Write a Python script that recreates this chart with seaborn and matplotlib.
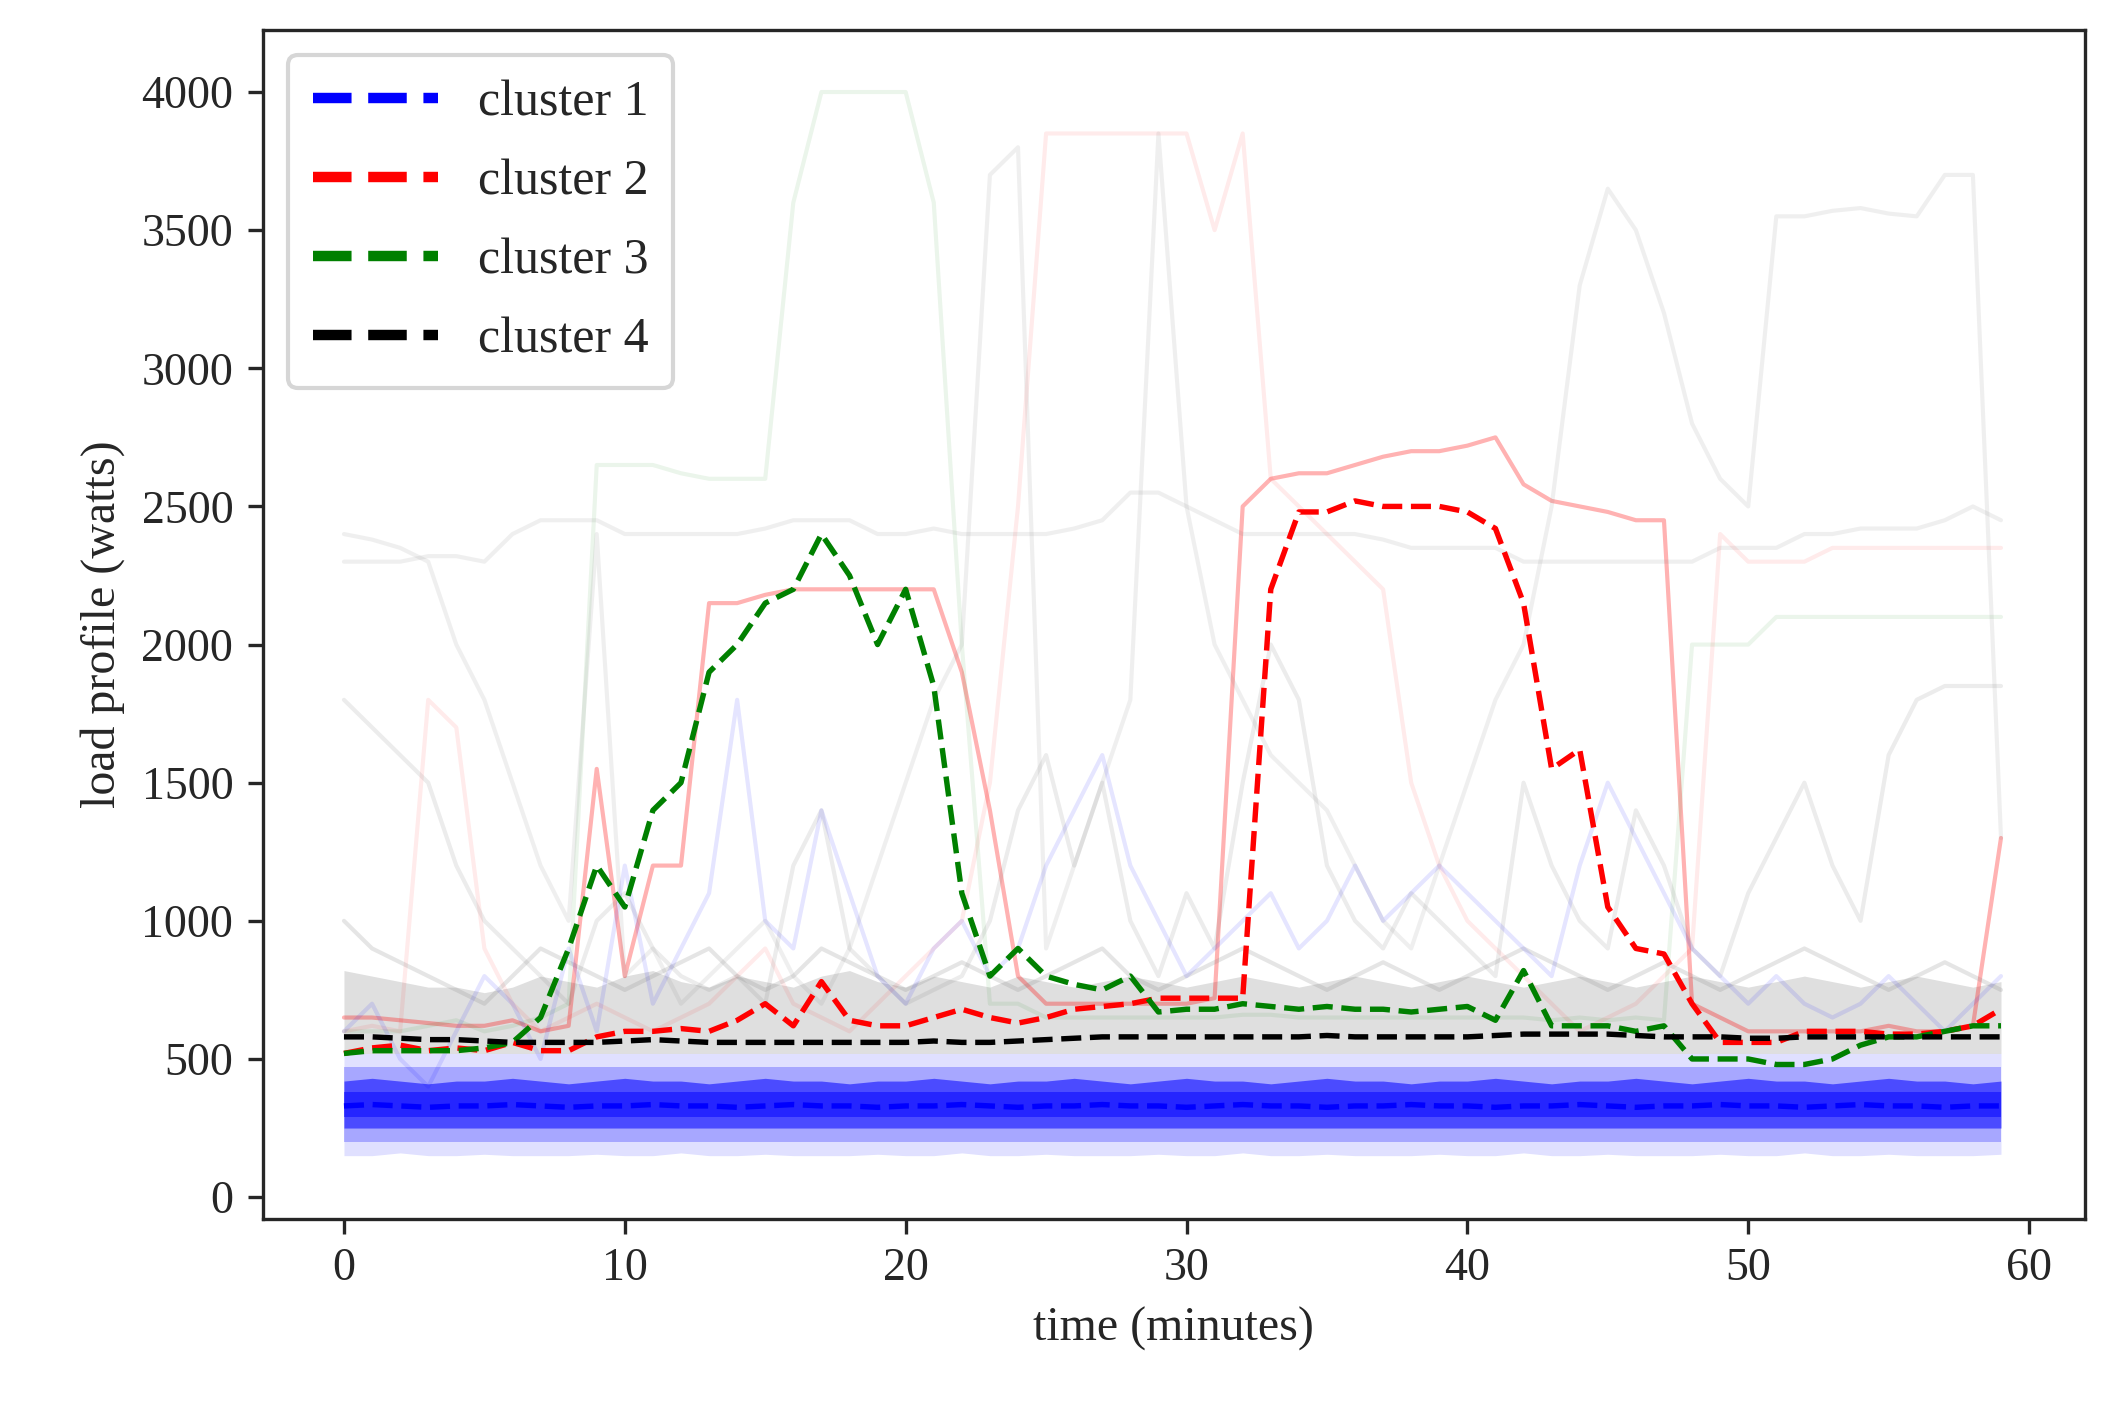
import numpy as np
import matplotlib
matplotlib.use("Agg")
import matplotlib.pyplot as plt
import seaborn as sns

t = list(range(60))

c1 = [330,335,330,325,330,330,335,330,325,330,330,335,330,330,325,330,335,330,330,325,
      330,330,335,330,325,330,330,335,330,330,325,330,335,330,330,325,330,330,335,330,
      330,325,330,330,335,330,325,330,330,335,330,330,325,330,335,330,330,325,330,330]
c2 = [520,540,550,530,540,530,560,530,530,580,600,600,610,600,640,700,620,780,640,620,
      620,650,680,650,630,650,680,690,700,720,720,720,720,2200,2480,2480,2520,2500,2500,2500,
      2480,2420,2150,1550,1620,1050,900,880,700,560,560,560,600,600,600,590,590,600,620,680]
c3 = [520,530,530,530,530,540,560,650,900,1200,1050,1400,1500,1900,2000,2150,2200,2400,2250,2000,
      2200,1850,1100,800,900,800,770,750,800,670,680,680,700,690,680,690,680,680,670,680,
      690,640,820,620,620,620,600,620,500,500,500,480,480,500,550,580,580,600,620,620]
c4 = [580,580,575,570,570,565,560,560,560,560,565,570,565,560,560,560,560,560,560,560,
      560,565,560,560,565,570,575,580,580,580,580,580,580,580,580,585,580,580,580,580,
      580,585,590,590,590,590,585,580,580,580,575,575,580,580,580,580,580,580,580,580]

red_a = [650,650,640,630,620,620,640,600,620,1550,800,1200,1200,2150,2150,2180,2200,2200,2200,2200,
         2200,2200,1900,1400,800,700,700,700,700,700,700,720,2500,2600,2620,2620,2650,2680,2700,2700,
         2720,2750,2580,2520,2500,2480,2450,2450,700,650,600,600,600,600,600,620,600,600,620,1300]
red_b = [600,620,600,1800,1700,900,700,600,650,700,650,600,650,700,800,900,700,650,600,700,
         800,900,1000,1500,2500,3850,3850,3850,3850,3850,3850,3500,3850,2600,2500,2400,2300,2200,1500,1200,
         1000,900,800,700,600,650,700,800,900,2400,2300,2300,2300,2350,2350,2350,2350,2350,2350,2350]
green_a = [600,600,600,620,640,600,620,650,700,2650,2650,2650,2620,2600,2600,2600,3600,4000,4000,4000,
           4000,3600,2000,700,700,650,650,650,650,650,650,650,660,660,650,650,650,650,650,650,
           650,650,650,640,650,640,650,640,2000,2000,2000,2100,2100,2100,2100,2100,2100,2100,2100,2100]
gray_a = [2400,2380,2350,2300,2000,1800,1500,1200,1000,2400,800,900,700,800,900,1000,800,700,900,1200,
          1500,1800,2000,3700,3800,900,1200,1500,1800,3850,2500,2000,1800,1600,1500,1400,1200,1000,900,1200,
          1500,1800,2000,2500,3300,3650,3500,3200,2800,2600,2500,3550,3550,3570,3580,3560,3550,3700,3700,1300]
gray_b = [2300,2300,2300,2320,2320,2300,2400,2450,2450,2450,2400,2400,2400,2400,2400,2420,2450,2450,2450,2400,
          2400,2420,2400,2400,2400,2400,2420,2450,2550,2550,2500,2450,2400,2400,2400,2400,2400,2380,2350,2350,
          2350,2350,2300,2300,2300,2300,2300,2300,2300,2350,2350,2350,2400,2400,2420,2420,2420,2450,2500,2450]
gray_c = [1800,1700,1600,1500,1200,1000,900,800,700,1000,1100,900,800,750,800,700,1200,1400,900,800,
          700,750,800,1000,1400,1600,1200,1500,1000,800,1100,900,1500,2000,1800,1200,1000,900,1100,1000,
          900,800,1500,1200,1000,900,1400,1200,900,800,1100,1300,1500,1200,1000,1600,1800,1850,1850,1850]
gray_d = [1000,900,850,800,750,700,800,900,850,800,750,800,850,900,800,750,800,900,850,800,
          750,800,850,800,750,800,850,900,800,750,800,850,900,850,800,750,800,850,800,750,
          800,850,900,850,800,750,800,850,800,750,800,850,900,850,800,750,800,850,800,750]
blue_a = [600,700,500,400,600,800,700,500,900,600,1200,700,900,1100,1800,1000,900,1400,1100,800,
          700,900,1000,800,900,1200,1400,1600,1200,1000,800,900,1000,1100,900,1000,1200,1000,1100,1200,
          1100,1000,900,800,1200,1500,1300,1100,900,800,700,800,700,650,700,800,700,600,700,800]

b_low = [150,150,160,150,150,155,150,150,150,155,150,150,160,150,150,155,150,150,150,155,
         150,150,160,150,150,155,150,150,150,155,150,150,160,150,150,155,150,150,150,155,
         150,150,160,150,150,155,150,150,150,155,150,150,160,150,150,155,150,150,150,155]
b_q1 = [250]*60
b_q3 = [420,430,420,410,420,420,430,420,410,420,430,420,420,410,420,430,420,420,410,420,
        420,430,420,410,420,420,430,420,410,420,430,420,420,410,420,430,420,420,410,420,
        420,430,420,410,420,420,430,420,410,420,430,420,420,410,420,430,420,420,410,420]
b_high = [520]*60
g_high = [820,800,780,760,760,740,760,800,780,760,800,820,780,760,800,780,760,800,820,780,
          760,800,780,760,800,780,760,780,800,780,760,780,800,780,760,780,800,780,760,780,
          800,780,760,780,800,780,760,780,800,780,760,780,800,780,760,780,800,780,760,780]

sns.set_style("ticks")
plt.rcParams['font.family'] = ['Liberation Serif', 'DejaVu Serif']
fig = plt.figure(figsize=(2117/300, 1422/300), dpi=300)
ax = fig.add_axes([0.124, 0.143, 0.861, 0.836])

ax.fill_between(t, b_high, g_high, color='gray', alpha=0.25, lw=0)
ax.fill_between(t, b_low, b_high, color='blue', alpha=0.12, lw=0)
ax.fill_between(t, [200]*60, [470]*60, color='blue', alpha=0.25, lw=0)
ax.fill_between(t, b_q1, b_q3, color='blue', alpha=0.55, lw=0)
ax.fill_between(t, [290]*60, [380]*60, color='blue', alpha=0.5, lw=0)

for y, col, a in [(red_a, 'red', 0.3), (red_b, 'red', 0.08), (green_a, 'green', 0.08),
                  (gray_a, 'gray', 0.12), (gray_b, 'gray', 0.12), (gray_c, 'gray', 0.15),
                  (gray_d, 'gray', 0.2), (blue_a, 'blue', 0.1)]:
    sns.lineplot(x=t, y=y, color=col, alpha=a, lw=1.0, ax=ax)

for y, col, lab in [(c1, 'blue', 'cluster 1'), (c2, 'red', 'cluster 2'),
                    (c3, 'green', 'cluster 3'), (c4, 'black', 'cluster 4')]:
    sns.lineplot(x=t, y=y, color=col, lw=1.3, ls='--', label=lab, ax=ax)

ax.set_xlim(-2.9, 62)
ax.set_ylim(-78, 4225)
ax.set_xticks([0,10,20,30,40,50,60])
ax.set_yticks([0,500,1000,1500,2000,2500,3000,3500,4000])
ax.tick_params(labelsize=11)
ax.set_xlabel('time (minutes)', fontsize=11.5)
ax.set_ylabel('load profile (watts)', fontsize=11.5)
leg = ax.legend(loc='upper left', fontsize=12, handlelength=2.5, borderpad=0.5, labelspacing=0.65)
for h in leg.get_lines():
    h.set_linewidth(2.5)
fig.savefig('out.png', dpi=300)
